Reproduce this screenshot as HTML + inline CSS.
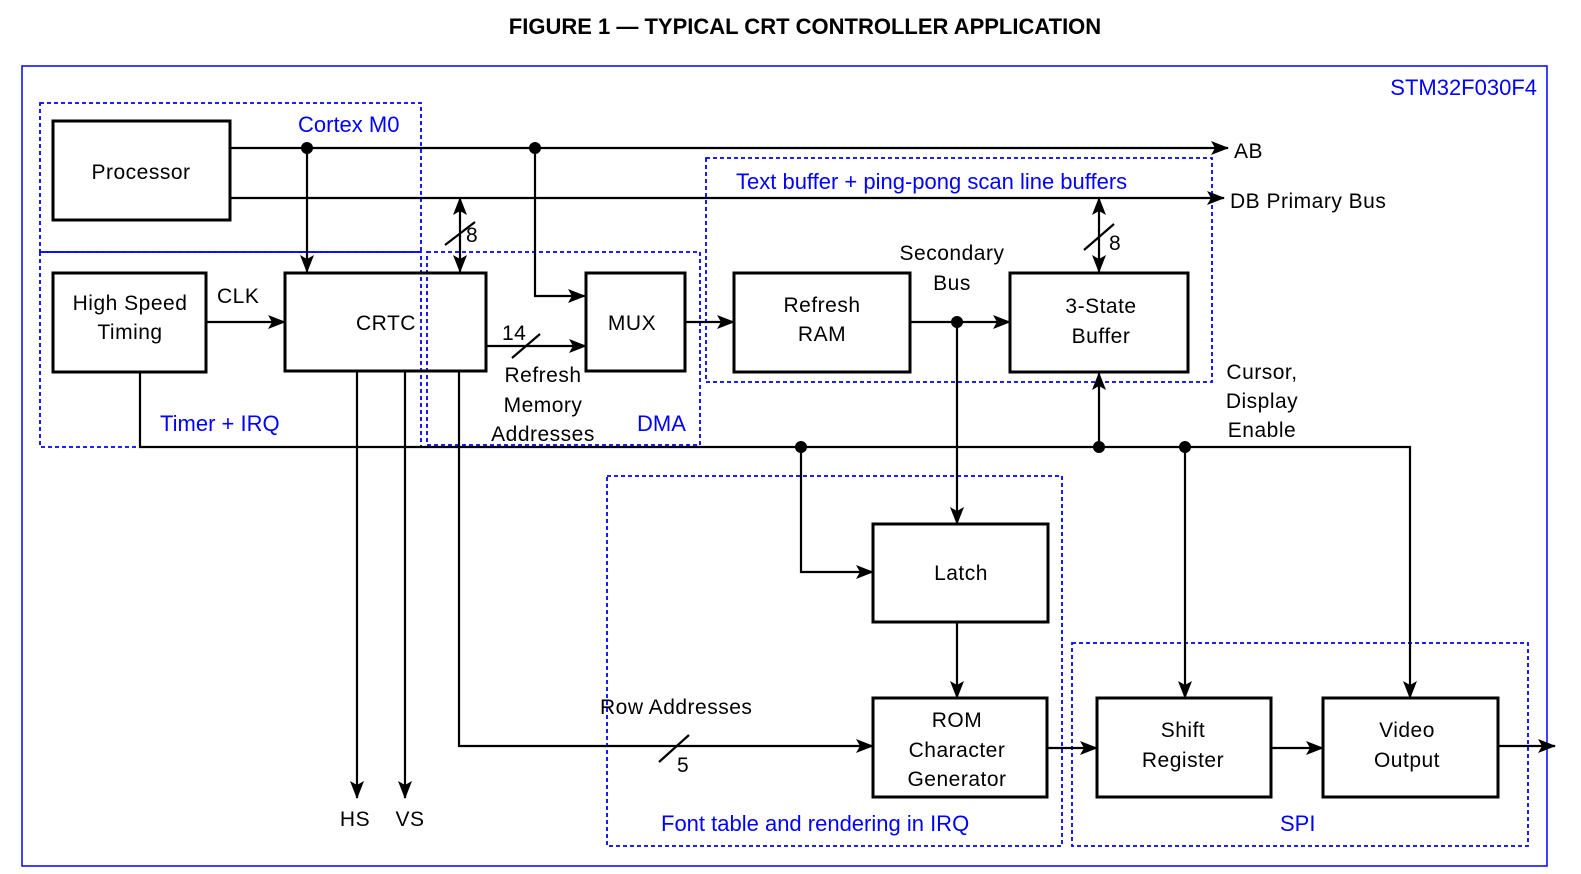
<!DOCTYPE html>
<html><head><meta charset="utf-8"><style>
html,body{margin:0;padding:0;background:#fff;}
svg{display:block;}
text{font-family:"Liberation Sans",sans-serif;}
.k{font-size:21px;fill:#000;letter-spacing:0.5px;}
.b{font-size:22px;fill:#0000ff;}
</style></head><body>
<svg width="1581" height="874" viewBox="0 0 1581 874" xmlns="http://www.w3.org/2000/svg">
<defs>
<marker id="a" markerWidth="18" markerHeight="14" refX="17" refY="7" orient="auto" markerUnits="userSpaceOnUse">
<path d="M0,0 L18,7 L0,14 L4,7 Z" fill="#000"/></marker>
<marker id="s" markerWidth="18" markerHeight="14" refX="1" refY="7" orient="auto" markerUnits="userSpaceOnUse">
<path d="M18,0 L0,7 L18,14 L14,7 Z" fill="#000"/></marker>
</defs>
<text x="805" y="34" text-anchor="middle" style="font-size:22px;font-weight:bold">FIGURE 1 — TYPICAL CRT CONTROLLER APPLICATION</text>
<rect x="22" y="66" width="1525" height="800" fill="none" stroke="#0000ff" stroke-width="1.5"/>
<text x="1537" y="95" text-anchor="end" class="b">STM32F030F4</text>
<g fill="none" stroke="#0000ff" stroke-width="1.8" stroke-dasharray="4,3">
<rect x="40" y="103" width="381" height="149"/>
<rect x="40" y="252" width="381" height="195"/>
<rect x="427" y="252" width="273" height="193"/>
<rect x="706" y="158" width="506" height="224"/>
<rect x="607" y="476" width="455" height="370"/>
<rect x="1072" y="643" width="456" height="203"/>
</g>
<line x1="40" y1="252" x2="421" y2="252" stroke="#0000ff" stroke-width="1.5"/>
<text x="298" y="132" class="b">Cortex M0</text>
<text x="160" y="431" class="b">Timer + IRQ</text>
<text x="637" y="431" class="b">DMA</text>
<text x="736" y="189" class="b">Text buffer + ping-pong scan line buffers</text>
<text x="661" y="831" class="b">Font table and rendering in IRQ</text>
<text x="1280" y="831" class="b">SPI</text>
<g fill="none" stroke="#000" stroke-width="3">
<rect x="53" y="121" width="177" height="99"/>
<rect x="53" y="273" width="153" height="99"/>
<rect x="285" y="273" width="201" height="98"/>
<rect x="586" y="273" width="99" height="98"/>
<rect x="734" y="273" width="176" height="99"/>
<rect x="1010" y="273" width="178" height="99"/>
<rect x="873" y="524" width="175" height="98"/>
<rect x="873" y="698" width="174" height="99"/>
<rect x="1097" y="698" width="174" height="99"/>
<rect x="1323" y="698" width="175" height="99"/>
</g>
<g class="k" text-anchor="middle">
<text x="141" y="179">Processor</text>
<text x="130" y="310">High Speed</text><text x="130" y="339">Timing</text>
<text x="386" y="330">CRTC</text>
<text x="632" y="330">MUX</text>
<text x="822" y="312">Refresh</text><text x="822" y="341">RAM</text>
<text x="1101" y="313">3-State</text><text x="1101" y="343">Buffer</text>
<text x="961" y="580">Latch</text>
<text x="957" y="727">ROM</text><text x="957" y="757">Character</text><text x="957" y="786">Generator</text>
<text x="1183" y="737">Shift</text><text x="1183" y="767">Register</text>
<text x="1407" y="737">Video</text><text x="1407" y="767">Output</text>
<text x="952" y="260">Secondary</text><text x="952" y="290">Bus</text>
<text x="1262" y="379">Cursor,</text><text x="1262" y="408">Display</text><text x="1262" y="437">Enable</text>
<text x="543" y="382">Refresh</text><text x="543" y="412">Memory</text><text x="543" y="441">Addresses</text>
<text x="355" y="826">HS</text><text x="410" y="826">VS</text>
</g>
<g class="k">
<text x="1234" y="158">AB</text>
<text x="1230" y="208">DB Primary Bus</text>
<text x="217" y="303">CLK</text>
<text x="600" y="714">Row Addresses</text>
<text x="466" y="242">8</text>
<text x="1109" y="250">8</text>
<text x="502" y="340">14</text>
<text x="677" y="772">5</text>
</g>
<g fill="none" stroke="#000" stroke-width="2.2">
<line x1="230" y1="148" x2="1228" y2="148" marker-end="url(#a)"/>
<line x1="230" y1="198" x2="1224" y2="198" marker-end="url(#a)"/>
<line x1="307" y1="148" x2="307" y2="272" marker-end="url(#a)"/>
<polyline points="535,148 535,296 585,296" marker-end="url(#a)"/>
<line x1="460" y1="198" x2="460" y2="272" marker-start="url(#s)" marker-end="url(#a)"/>
<line x1="445" y1="245" x2="475" y2="222"/>
<line x1="206" y1="322" x2="285" y2="322" marker-end="url(#a)"/>
<line x1="486" y1="346" x2="586" y2="346" marker-end="url(#a)"/>
<line x1="512" y1="358" x2="540" y2="334"/>
<line x1="685" y1="322" x2="734" y2="322" marker-end="url(#a)"/>
<line x1="910" y1="322" x2="1010" y2="322" marker-end="url(#a)"/>
<line x1="957" y1="322" x2="957" y2="524" marker-end="url(#a)"/>
<line x1="1099" y1="198" x2="1099" y2="272" marker-start="url(#s)" marker-end="url(#a)"/>
<line x1="1084" y1="250" x2="1114" y2="224"/>
<polyline points="140,372 140,447 1410,447 1410,698" marker-end="url(#a)"/>
<line x1="1099" y1="447" x2="1099" y2="373" marker-end="url(#a)"/>
<polyline points="801,447 801,572 873,572" marker-end="url(#a)"/>
<line x1="1185" y1="447" x2="1185" y2="698" marker-end="url(#a)"/>
<line x1="357" y1="371" x2="357" y2="798" marker-end="url(#a)"/>
<line x1="405" y1="371" x2="405" y2="798" marker-end="url(#a)"/>
<polyline points="459,371 459,746 873,746" marker-end="url(#a)"/>
<line x1="659" y1="762" x2="689" y2="735"/>
<line x1="957" y1="622" x2="957" y2="698" marker-end="url(#a)"/>
<line x1="1047" y1="748" x2="1097" y2="748" marker-end="url(#a)"/>
<line x1="1271" y1="748" x2="1323" y2="748" marker-end="url(#a)"/>
<line x1="1498" y1="746" x2="1555" y2="746" marker-end="url(#a)"/>
</g>
<g fill="#000">
<circle cx="307" cy="148" r="6"/><circle cx="535" cy="148" r="6"/>
<circle cx="957" cy="322" r="6"/>
<circle cx="801" cy="447" r="6"/><circle cx="1099" cy="447" r="6"/><circle cx="1185" cy="447" r="6"/>
</g>
</svg>
</body></html>
